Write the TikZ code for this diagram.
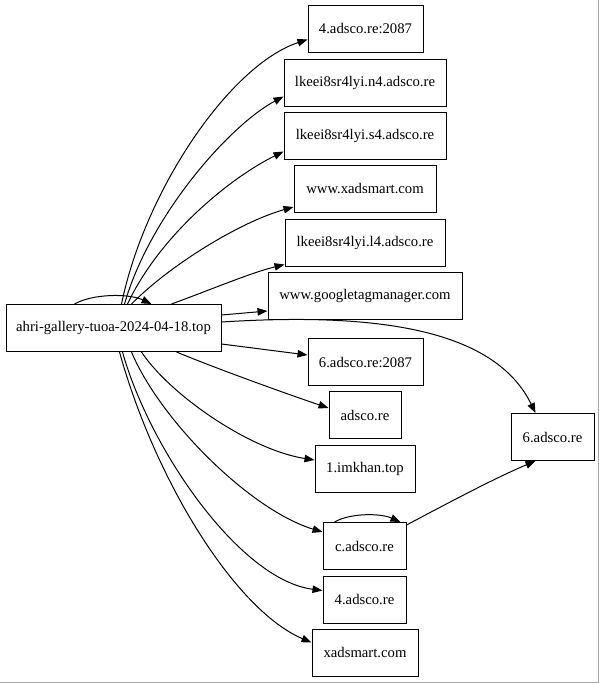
\documentclass[tikz,border=0pt]{standalone}
\usepackage{fontspec}
\setmainfont{Liberation Serif}
\usetikzlibrary{arrows.meta}
\begin{document}
\begin{tikzpicture}[x=1pt,y=-1pt,
  box/.style={draw,line width=1pt,rectangle,minimum height=47pt,inner sep=0pt,font=\fontsize{14.7pt}{17pt}\selectfont},
  edge/.style={line width=1pt,-{Triangle[length=10pt,width=7.5pt]}}]
\useasboundingbox (0,0) rectangle (599,683);
\draw[gray!70,line width=1.5pt] (598.3,0) -- (598.3,682.3) -- (0,682.3);
\node[box,minimum width=215pt] (main) at (113.5,328) {ahri-gallery-tuoa-2024-04-18.top};
\node[box,minimum width=115pt] (t1) at (365.5,28.5) {4.adsco.re:2087};
\node[box,minimum width=162pt] (t2) at (365,82.5) {lkeei8sr4lyi.n4.adsco.re};
\node[box,minimum width=162pt] (t3) at (365,135.5) {lkeei8sr4lyi.s4.adsco.re};
\node[box,minimum width=142pt] (t4) at (365,189) {www.xadsmart.com};
\node[box,minimum width=160pt] (t5) at (365,242.5) {lkeei8sr4lyi.l4.adsco.re};
\node[box,minimum width=194pt] (t6) at (365,296) {www.googletagmanager.com};
\node[box,minimum width=115pt] (t7) at (365.5,362) {6.adsco.re:2087};
\node[box,minimum width=72pt] (t8) at (365,415) {adsco.re};
\node[box,minimum width=100pt] (t9) at (365,469) {1.imkhan.top};
\node[box,minimum width=83pt] (t10) at (364.5,546) {c.adsco.re};
\node[box,minimum width=83pt] (t11) at (364.5,599.5) {4.adsco.re};
\node[box,minimum width=106pt] (t12) at (365,652.5) {xadsmart.com};
\node[box,minimum width=83pt] (t14) at (552.5,437) {6.adsco.re};
% top edges
\draw[edge] ([xshift=116pt]main.north west) .. controls (145,190) and (230,65) .. ([yshift=-11pt]t1.west);
\draw[edge] ([xshift=119pt]main.north west) .. controls (150,215) and (230,125) .. ([yshift=-14pt]t2.west);
\draw[edge] ([xshift=122pt]main.north west) .. controls (160,235) and (230,178) .. ([yshift=-16pt]t3.west);
\draw[edge] ([xshift=126pt]main.north west) .. controls (170,265) and (240,222) .. ([yshift=-18pt]t4.west);
\draw[edge] ([xshift=166pt]main.north west) .. controls (210,290) and (250,273) .. ([yshift=-22pt]t5.west);
\draw[edge] ([yshift=13pt]main.east) -- ([yshift=-15pt]t6.west);
\draw[edge] ([yshift=6pt]main.east) .. controls (380,312) and (495,330) .. ([xshift=-17pt]t14.north);
\draw[edge] ([xshift=69pt]main.north west) .. controls (92,294) and (128,293) .. ([xshift=146pt]main.north west);
% bottom edges
\draw[edge] ([yshift=-16pt]main.east) -- ([yshift=7pt]t7.west);
\draw[edge] ([xshift=171pt]main.south west) .. controls (220,370) and (290,395) .. ([yshift=7pt]t8.west);
\draw[edge] ([xshift=136pt]main.south west) .. controls (170,395) and (250,450) .. ([yshift=9pt]t9.west);
\draw[edge] ([xshift=126pt]main.south west) .. controls (160,420) and (250,510) .. ([yshift=14pt]t10.west);
\draw[edge] ([xshift=117pt]main.south west) .. controls (150,450) and (240,580) .. ([yshift=9pt]t11.west);
\draw[edge] ([xshift=114pt]main.south west) .. controls (155,480) and (235,610) .. ([yshift=10pt]t12.west);
% c.adsco.re
\draw[edge] ([xshift=12pt]t10.north west) .. controls (350,513) and (380,513) .. ([xshift=-6pt]t10.north east);
\draw[edge] ([yshift=21pt]t10.east) .. controls (450,502) and (495,478) .. ([xshift=-17pt]t14.south);
\end{tikzpicture}
\end{document}
